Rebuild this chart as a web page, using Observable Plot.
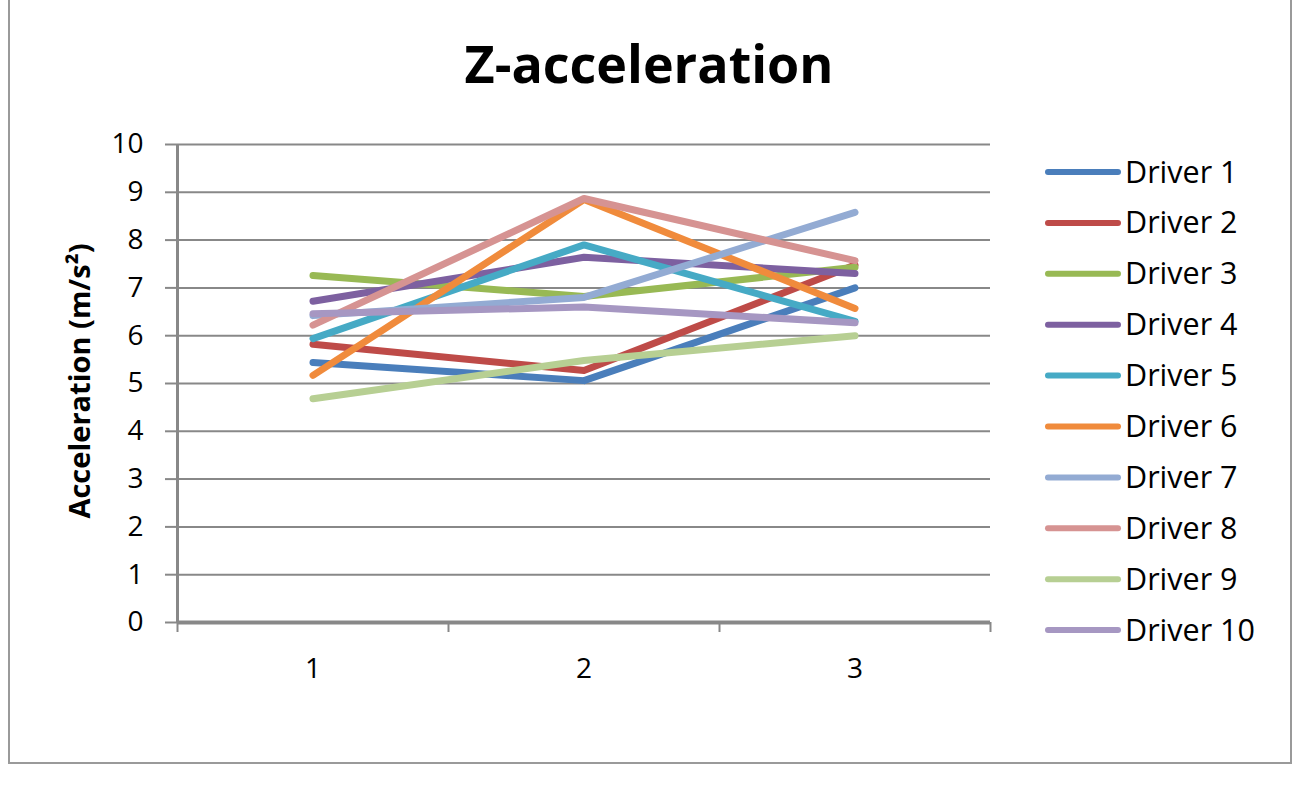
<!DOCTYPE html>
<html>
<head>
<meta charset="utf-8">
<script src="https://cdn.jsdelivr.net/npm/d3@7"></script>
<script src="https://cdn.jsdelivr.net/npm/@observablehq/plot@0.6"></script>
<style>
  html, body { margin: 0; padding: 0; background: #fff; }
  #wrap { position: relative; width: 1302px; height: 794px; overflow: hidden; font-family: "Open Sans", sans-serif; }
  #border { position: absolute; left: 8px; top: -4px; width: 1284px; height: 768px; border: 2px solid #9a9a9a; box-sizing: border-box; }
  #chart { position: absolute; left: 0; top: 0; }
  #overlay { position: absolute; left: 0; top: 0; }
</style>
</head>
<body>
<div id="wrap">
  <div id="border"></div>
  <div id="chart"></div>
  <svg id="overlay" width="1302" height="794"></svg>
</div>
<script>
// ---- data ----
const title = "Z-acceleration";
const yLabel = "Acceleration (m/s²)";
const trials = [1, 2, 3];
const drivers = ["Driver 1", "Driver 2", "Driver 3", "Driver 4", "Driver 5",
                 "Driver 6", "Driver 7", "Driver 8", "Driver 9", "Driver 10"];
const driver1 = [5.44, 5.06, 7.00];
const driver2 = [5.82, 5.27, 7.48];
const driver3 = [7.26, 6.82, 7.43];
const driver4 = [6.72, 7.64, 7.30];
const driver5 = [5.94, 7.90, 6.30];
const driver6 = [5.17, 8.85, 6.57];
const driver7 = [6.42, 6.80, 8.58];
const driver8 = [6.22, 8.87, 7.57];
const driver9 = [4.68, 5.48, 6.00];
const driver10 = [6.46, 6.60, 6.27];
const yTicks = [0, 1, 2, 3, 4, 5, 6, 7, 8, 9, 10];
const xBoundaries = [0.5, 1.5, 2.5, 3.5];
const colors = ["#4A7EBB", "#BE4B48", "#98B954", "#7D60A0", "#46AAC5",
                "#F08B3C", "#93ABD3", "#D69392", "#B7CF93", "#A697C2"];

const series = [driver1, driver2, driver3, driver4, driver5,
                driver6, driver7, driver8, driver9, driver10];
const data = drivers.flatMap((name, i) =>
  series[i].map((v, j) => ({driver: name, trial: trials[j], value: v})));

const gridColor = "#888888";
const fontFamily = "'Open Sans', sans-serif";

const chart = Plot.plot({
  width: 1302,
  height: 794,
  marginLeft: 177,
  marginRight: 312,
  marginTop: 144,
  marginBottom: 172,
  style: {fontFamily, fontSize: "28px", color: "#000", background: "transparent", overflow: "visible"},
  x: {domain: [0.5, 3.5]},
  y: {domain: [0, 10]},
  color: {domain: drivers, range: colors},
  marks: [
    Plot.ruleY(yTicks.filter(d => d > 0), {stroke: gridColor, strokeWidth: 2}),
    Plot.lineY(data, {x: "trial", y: "value", z: "driver", stroke: "driver",
      strokeWidth: 7, strokeLinecap: "round", strokeLinejoin: "round"}),
    Plot.ruleX([0.5], {stroke: gridColor, strokeWidth: 3}),
    Plot.ruleY([0], {stroke: gridColor, strokeWidth: 4}),
    Plot.axisY({ticks: yTicks, tickSize: 12, tickPadding: 22, label: null,
      stroke: gridColor, strokeWidth: 2, fill: "#000", tickFormat: d => String(d)}),
    Plot.axisX({ticks: xBoundaries, tickSize: 10, tickFormat: () => "", label: null,
      stroke: gridColor, strokeWidth: 2}),
    Plot.axisX({ticks: trials, tickSize: 0, tickPadding: 36, label: null,
      fill: "#000", tickFormat: d => String(d)})
  ]
});
document.getElementById("chart").appendChild(chart);

// ---- title, axis label, legend ----
const svg = d3.select("#overlay");
svg.append("text")
  .attr("x", 649).attr("y", 83)
  .attr("text-anchor", "middle")
  .style("font-family", fontFamily)
  .style("font-weight", "700")
  .style("font-size", "52px")
  .text(title);

svg.append("text")
  .attr("transform", "translate(90,381) rotate(-90)")
  .attr("text-anchor", "middle")
  .style("font-family", fontFamily)
  .style("font-weight", "700")
  .style("font-size", "29px")
  .text(yLabel);

const legend = svg.append("g");
drivers.forEach((name, i) => {
  const cy = 172 + i * 50.9;
  legend.append("line")
    .attr("x1", 1048).attr("x2", 1118)
    .attr("y1", cy).attr("y2", cy)
    .attr("stroke", colors[i]).attr("stroke-width", 6)
    .attr("stroke-linecap", "round");
  legend.append("text")
    .attr("x", 1125).attr("y", cy + 10.5)
    .style("font-family", fontFamily)
    .style("font-size", "30.5px")
    .text(name);
});
</script>
</body>
</html>
